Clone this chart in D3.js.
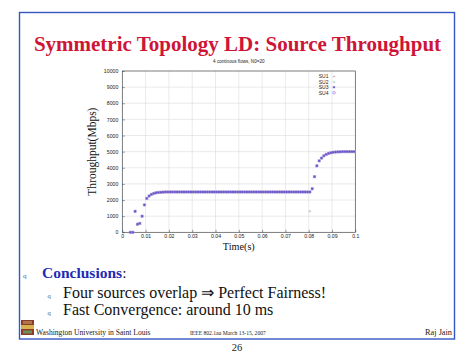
<!DOCTYPE html>
<html><head><meta charset="utf-8">
<script src="https://cdn.jsdelivr.net/npm/d3@7/dist/d3.min.js"></script>
<style>body{margin:0;background:#fff}svg{display:block}</style>
</head><body>
<script>
// ---------- data ----------
const times = [
 0.0035,0.0045,0.0055,0.0065,0.0075,0.0085,0.0095,0.0105,0.0115,0.0125,
 0.0135,0.0145,0.0155,0.0165,0.0175,0.0185,0.0195,0.0205,0.0215,0.0225,
 0.0235,0.0245,0.0255,0.0265,0.0275,0.0285,0.0295,0.0305,0.0315,0.0325,
 0.0335,0.0345,0.0355,0.0365,0.0375,0.0385,0.0395,0.0405,0.0415,0.0425,
 0.0435,0.0445,0.0455,0.0465,0.0475,0.0485,0.0495,0.0505,0.0515,0.0525,
 0.0535,0.0545,0.0555,0.0565,0.0575,0.0585,0.0595,0.0605,0.0615,0.0625,
 0.0635,0.0645,0.0655,0.0665,0.0675,0.0685,0.0695,0.0705,0.0715,0.0725,
 0.0735,0.0745,0.0755,0.0765,0.0775,0.0785,0.0795,0.0805,0.0815,0.0825,
 0.0835,0.0845,0.0855,0.0865,0.0875,0.0885,0.0895,0.0905,0.0915,0.0925,
 0.0935,0.0945,0.0955,0.0965,0.0975,0.0985,0.0995];
const su1 = [
 0,0,1300,500,550,1000,1700,2100,2250,2350,
 2410,2450,2470,2480,2490,2500,2500,2500,2500,2500,
 2500,2500,2500,2500,2500,2500,2500,2500,2500,2500,
 2500,2500,2500,2500,2500,2500,2500,2500,2500,2500,
 2500,2500,2500,2500,2500,2500,2500,2500,2500,2500,
 2500,2500,2500,2500,2500,2500,2500,2500,2500,2500,
 2500,2500,2500,2500,2500,2500,2500,2500,2500,2500,
 2500,2500,2500,2500,2500,2500,2500,1300,2700,3450,
 4120,4430,4600,4740,4830,4890,4930,4960,4975,4985,
 4990,5000,5000,5000,5000,5000,5000];
const su2 = [
 0,0,1300,500,550,1000,1700,2100,2250,2350,
 2410,2450,2470,2480,2490,2500,2500,2500,2500,2500,
 2500,2500,2500,2500,2500,2500,2500,2500,2500,2500,
 2500,2500,2500,2500,2500,2500,2500,2500,2500,2500,
 2500,2500,2500,2500,2500,2500,2500,2500,2500,2500,
 2500,2500,2500,2500,2500,2500,2500,2500,2500,2500,
 2500,2500,2500,2500,2500,2500,2500,2500,2500,2500,
 2500,2500,2500,2500,2500,2500,2500,2500,2700,3450,
 4120,4430,4600,4740,4830,4890,4930,4960,4975,4985,
 4990,5000,5000,5000,5000,5000,5000];
const su3 = [
 0,0,1300,500,550,1000,1700,2100,2250,2350,
 2410,2450,2470,2480,2490,2500,2500,2500,2500,2500,
 2500,2500,2500,2500,2500,2500,2500,2500,2500,2500,
 2500,2500,2500,2500,2500,2500,2500,2500,2500,2500,
 2500,2500,2500,2500,2500,2500,2500,2500,2500,2500,
 2500,2500,2500,2500,2500,2500,2500,2500,2500,2500,
 2500,2500,2500,2500,2500,2500,2500,2500,2500,2500,
 2500,2500,2500,2500,2500,2500,2500,2500,2700,3450,
 4120,4430,4600,4740,4830,4890,4930,4960,4975,4985,
 4990,5000,5000,5000,5000,5000,5000];
const su4 = [
 0,0,1300,500,550,1000,1700,2100,2250,2350,
 2410,2450,2470,2480,2490,2500,2500,2500,2500,2500,
 2500,2500,2500,2500,2500,2500,2500,2500,2500,2500,
 2500,2500,2500,2500,2500,2500,2500,2500,2500,2500,
 2500,2500,2500,2500,2500,2500,2500,2500,2500,2500,
 2500,2500,2500,2500,2500,2500,2500,2500,2500,2500,
 2500,2500,2500,2500,2500,2500,2500,2500,2500,2500,
 2500,2500,2500,2500,2500,2500,2500,2500,2700,3450,
 4120,4430,4600,4740,4830,4890,4930,4960,4975,4985,
 4990,5000,5000,5000,5000,5000,5000];
const seriesNames = ["SU1","SU2","SU3","SU4"];
const xTicks = [0,0.01,0.02,0.03,0.04,0.05,0.06,0.07,0.08,0.09,0.1];
const xTickLabels = ["0","0.01","0.02","0.03","0.04","0.05","0.06","0.07","0.08","0.09","0.1"];
const yTicks = [0,1000,2000,3000,4000,5000,6000,7000,8000,9000,10000];
const chartTitle = "4 continous flows, N0=20";
const slideTitle = "Symmetric Topology LD: Source Throughput";

// ---------- drawing ----------
const W=474,H=355;
const svg=d3.select("body").append("svg").attr("width",W).attr("height",H);
const serif="'Liberation Serif','Times New Roman',serif";
const sans="'Liberation Sans',Arial,sans-serif";

// slide frame
svg.append("rect").attr("x",19.5).attr("y",12.5).attr("width",435).attr("height",326.5)
  .attr("fill","none").attr("stroke","#3557c4").attr("stroke-width",1.4);

svg.append("text").attr("x",237.5).attr("y",50.5).attr("text-anchor","middle")
  .attr("font-family",serif).attr("font-weight","bold").attr("font-size",21)
  .attr("fill","#cf1537").text(slideTitle);

// chart
const x=d3.scaleLinear().domain([0,0.1]).range([122.3,355.3]);
const y=d3.scaleLinear().domain([0,10000]).range([232.3,71]);
const g=svg.append("g");

// grid
g.append("g").selectAll("line").data(xTicks.slice(1,-1)).join("line")
  .attr("x1",d=>x(d)).attr("x2",d=>x(d)).attr("y1",y(0)).attr("y2",y(10000))
  .attr("stroke","#dcdcdc").attr("stroke-width",0.6);
g.append("g").selectAll("line").data(yTicks.slice(1,-1)).join("line")
  .attr("x1",x(0)).attr("x2",x(0.1)).attr("y1",d=>y(d)).attr("y2",d=>y(d))
  .attr("stroke","#dcdcdc").attr("stroke-width",0.6);

// axes
const xAxis=d3.axisBottom(x).tickValues(xTicks).tickFormat((d,i)=>xTickLabels[i]).tickSizeInner(-2.5).tickSizeOuter(0).tickPadding(3);
const yAxis=d3.axisLeft(y).tickValues(yTicks).tickFormat(d3.format("d")).tickSizeInner(-2.5).tickSizeOuter(0).tickPadding(4);
const gx=g.append("g").attr("transform",`translate(0,${y(0)})`).call(xAxis);
const gy=g.append("g").attr("transform",`translate(${x(0)},0)`).call(yAxis);
[gx,gy].forEach(a=>{
  a.select(".domain").remove();
  a.selectAll("line").attr("stroke","#555").attr("stroke-width",0.6);
  a.selectAll("text").attr("font-family",sans).attr("font-size",5.2).attr("fill","#222");
});
gx.selectAll("text").attr("dy","0.6em");
// border
g.append("rect").attr("x",x(0)).attr("y",y(10000)).attr("width",x(0.1)-x(0)).attr("height",y(0)-y(10000))
  .attr("fill","none").attr("stroke","#444").attr("stroke-width",0.7);

g.append("text").attr("x",(x(0)+x(0.1))/2).attr("y",63).attr("text-anchor","middle")
  .attr("font-family",sans).attr("font-size",4.6).attr("fill","#222").text(chartTitle);
g.append("text").attr("x",(x(0)+x(0.1))/2).attr("y",249.5).attr("text-anchor","middle")
  .attr("font-family",serif).attr("font-size",10.2).attr("fill","#111").text("Time(s)");
g.append("text").attr("transform",`translate(96,${(y(0)+y(10000))/2}) rotate(-90)`).attr("text-anchor","middle")
  .attr("font-family",serif).attr("font-size",11.5).attr("fill","#111").text("Throughput(Mbps)");

// markers
const allSeries=[su1,su2,su3,su4];
const styles=[
  {type:"plus",color:"#d4b0b4"},
  {type:"cross",color:"#a9d6c6"},
  {type:"star",color:"#6a4fcf"},
  {type:"box",color:"#b596ea"}
];
function marker(sel,type,color,s){
  const p=d3.path();
  if(type==="plus"){p.moveTo(-s,0);p.lineTo(s,0);p.moveTo(0,-s);p.lineTo(0,s);}
  else if(type==="cross"){p.moveTo(-s,-s);p.lineTo(s,s);p.moveTo(-s,s);p.lineTo(s,-s);}
  else if(type==="star"){p.moveTo(-s,0);p.lineTo(s,0);p.moveTo(0,-s);p.lineTo(0,s);
    const k=s*0.7;p.moveTo(-k,-k);p.lineTo(k,k);p.moveTo(-k,k);p.lineTo(k,-k);}
  else {p.rect(-s,-s,2*s,2*s);}
  sel.attr("d",p.toString()).attr("fill","none").attr("stroke",color).attr("stroke-width",0.8);
}
const plot=g.append("g");
[3,0,1,2].forEach(si=>{
  const st=styles[si];
  plot.append("g").selectAll("path").data(allSeries[si].map((v,i)=>[times[i],v])).join("path")
    .attr("transform",d=>`translate(${x(d[0])},${y(d[1])})`)
    .each(function(){marker(d3.select(this),st.type,st.color,st.type==="box"?1.1:1.2);});
});

// legend
const lg=g.append("g");
seriesNames.forEach((n,i)=>{
  const yy=76.5+i*5.4;
  lg.append("text").attr("x",328.5).attr("y",yy+1.8).attr("text-anchor","end")
    .attr("font-family",sans).attr("font-size",5).attr("fill","#222").text(n);
  lg.append("path").attr("transform",`translate(334,${yy})`)
    .call(s=>marker(s,styles[i].type,styles[i].color,1.1));
});

// bullets text
const bl=svg.append("g");
bl.append("text").attr("x",23).attr("y",277.5).attr("font-family",serif).attr("font-size",7).attr("fill","#3a56b0").text("q");
const t1=bl.append("text").attr("x",42).attr("y",277.5).attr("font-family",serif).attr("font-size",15.5);
t1.append("tspan").attr("font-weight","bold").attr("fill","#1f2bb5").text("Conclusions");
t1.append("tspan").attr("fill","#222").text(":");
bl.append("text").attr("x",47.5).attr("y",298).attr("font-family",serif).attr("font-size",6.5).attr("fill","#555").text("q");
bl.append("text").attr("x",63).attr("y",298).attr("font-family",serif).attr("font-size",16).attr("fill","#111").text("Four sources overlap \u21D2 Perfect Fairness!");
bl.append("text").attr("x",47.5).attr("y",315).attr("font-family",serif).attr("font-size",6.5).attr("fill","#555").text("q");
bl.append("text").attr("x",63).attr("y",315).attr("font-family",serif).attr("font-size",16).attr("fill","#111").text("Fast Convergence: around 10 ms");

// footer
const ft=svg.append("g");
const logo=ft.append("g").attr("transform","translate(21,320)");
logo.append("rect").attr("width",13).attr("height",15).attr("fill","#8c3b2b");
logo.append("rect").attr("y",5).attr("width",13).attr("height",4).attr("fill","#d8b24a");
logo.append("rect").attr("x",2).attr("y",1).attr("width",9).attr("height",3).attr("fill","#b0744a");
logo.append("rect").attr("x",2).attr("y",10.5).attr("width",9).attr("height",3).attr("fill","#6e8f5a");
ft.append("text").attr("x",36).attr("y",335).attr("font-family",serif).attr("font-size",7.6).attr("fill","#222").text("Washington University in Saint Louis");
ft.append("text").attr("x",190).attr("y",335).attr("font-family",serif).attr("font-size",5.6).attr("fill","#222").text("IEEE 802.1au  March  13-15, 2007");
ft.append("text").attr("x",452).attr("y",335).attr("text-anchor","end").attr("font-family",serif).attr("font-size",8.3).attr("fill","#222").text("Raj Jain");
ft.append("text").attr("x",237).attr("y",351).attr("text-anchor","middle").attr("font-family",serif).attr("font-size",10.5).attr("fill","#222").text("26");
</script>
</body></html>
